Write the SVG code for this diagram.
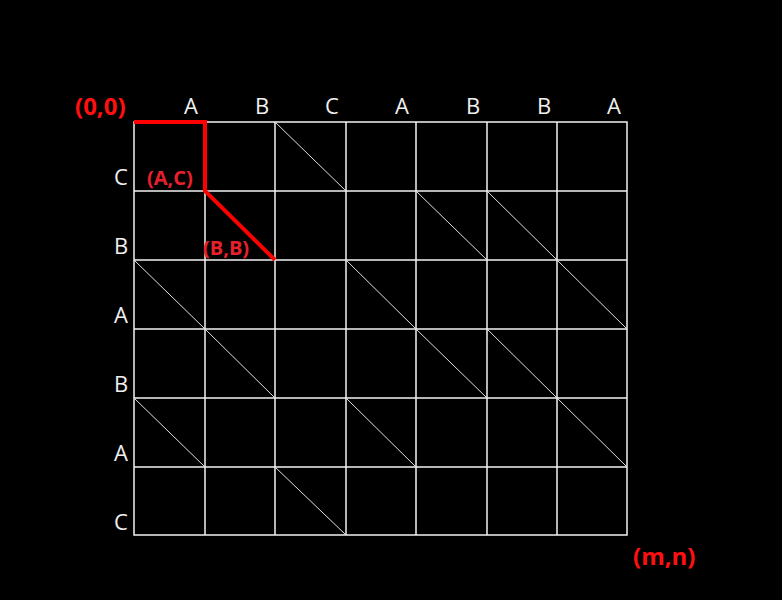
<svg xmlns="http://www.w3.org/2000/svg" width="782" height="600" viewBox="0 0 782 600">
<style>
.g{stroke:#f2f2f2;stroke-width:1.5;fill:none}
.d{stroke:#e0e0e0;stroke-width:1;fill:none}
.lbl{font-family:"Open Sans","Liberation Sans",sans-serif;font-size:22px;fill:#f0f0f0;text-anchor:middle}
.rl{font-family:"Open Sans","Liberation Sans",sans-serif;font-weight:bold;fill:#ff1010}
.rs{font-family:"Open Sans","Liberation Sans",sans-serif;font-weight:bold;fill:#e8202c;font-size:20px}
</style>
<rect width="782" height="600" fill="#000"/>
<g id="grid">
<rect class="g" x="134" y="122" width="493" height="413"/>
<path class="g" d="M205 122V535M275 122V535M346 122V535M416 122V535M487 122V535M557 122V535M134 191H627M134 260H627M134 329H627M134 398H627M134 467H627"/>
</g>
<g id="diagonals">
<path class="d" d="M275 122L346 191M416 191L487 260M487 191L557 260M134 260L205 329M346 260L416 329M557 260L627 329M205 329L275 398M416 329L487 398M487 329L557 398M134 398L205 467M346 398L416 467M557 398L627 467M275 467L346 535"/>
</g>
<g id="col-labels">
<text class="lbl" x="191" y="114">A</text>
<text class="lbl" x="262" y="114">B</text>
<text class="lbl" x="332" y="114">C</text>
<text class="lbl" x="402" y="114">A</text>
<text class="lbl" x="473" y="114">B</text>
<text class="lbl" x="544" y="114">B</text>
<text class="lbl" x="614" y="114">A</text>
</g>
<g id="row-labels">
<text class="lbl" x="121" y="185">C</text>
<text class="lbl" x="121" y="254">B</text>
<text class="lbl" x="121" y="323">A</text>
<text class="lbl" x="121" y="392">B</text>
<text class="lbl" x="121" y="461">A</text>
<text class="lbl" x="121" y="530">C</text>
</g>
<g id="connectors">
<path d="M134 122H205V191L275 260" stroke="#ff0000" stroke-width="4" fill="none"/>
</g>
<g id="path-labels">
<text class="rl" x="75" y="115" font-size="24">(0,0)</text>
<text class="rs" x="147" y="185">(A,C)</text>
<text class="rs" x="203" y="255">(B,B)</text>
<text class="rl" x="633" y="565" font-size="24">(m,n)</text>
</g>
</svg>
